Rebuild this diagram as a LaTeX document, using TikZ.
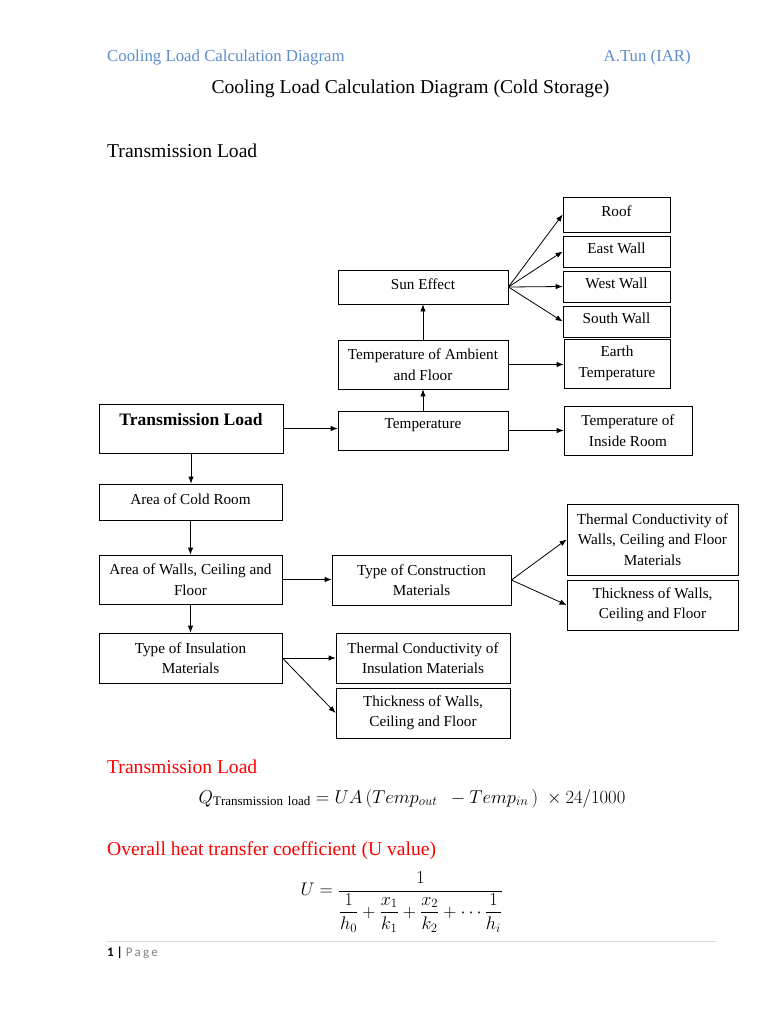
\RequirePackage{fix-cm}
\documentclass[tikz,border=0pt]{standalone}
\usepackage{amsmath}
\usepackage{fontspec}
\setmainfont{Liberation Serif}
\newfontfamily\pagefont{Carlito}
\usepackage{xcolor}
\usetikzlibrary{arrows.meta}
\definecolor{headblue}{RGB}{91,142,205}
\definecolor{pagegray}{RGB}{128,128,128}

\begin{document}
\begin{tikzpicture}[
        x=1pt, y=-1pt,
        box/.style={draw, line width=0.8pt, align=center, inner sep=1pt,
            font=\fontsize{15.2}{20.5}\selectfont},
        single/.style={text depth=6pt},
        link/.style={line width=0.8pt, -{Latex[length=7pt,width=5.5pt]}},
        heading/.style={anchor=base west, inner sep=0pt, font=\fontsize{19.6}{22}\selectfont}
      ]
      \useasboundingbox (0,0) rectangle (768,1024);

      % page head
      \node[anchor=base west, inner sep=0pt, text=headblue, font=\fontsize{16.8}{18}\selectfont] (runhead) at (107,62) {Cooling Load Calculation Diagram};
      \node[anchor=base east, inner sep=0pt, text=headblue, font=\fontsize{16.8}{18}\selectfont] (author) at (691,62) {A.Tun (IAR)};
      \node[anchor=base, inner sep=0pt, font=\fontsize{19.6}{22}\selectfont] (title) at (410.5,94) {Cooling Load Calculation Diagram (Cold Storage)};
      \node[heading] (section) at (107,158) {Transmission Load};

      % sun side
      \node[box, single, minimum width=107pt, minimum height=35pt] (roof) at (616.5,214.5) {Roof};
      \node[box, single, minimum width=107pt, minimum height=31pt] (east) at (616.5,251.5) {East Wall};
      \node[box, single, minimum width=107pt, minimum height=31pt] (west) at (616.5,286.5) {West Wall};
      \node[box, single, minimum width=107pt, minimum height=31pt] (south) at (616.5,321.5) {South Wall};
      \node[box, single, minimum width=170pt, minimum height=34pt] (sun) at (423,287) {Sun Effect};
      \node[box, minimum width=170pt, minimum height=49pt] (ambient) at (423,364.5) {Temperature of Ambient\\and Floor};
      \node[box, minimum width=106pt, minimum height=49pt] (earth) at (617,363.5) {Earth\\Temperature};

      % main row
      \node[box, minimum width=184pt, minimum height=49pt, text depth=19pt,
          font=\fontsize{17.5}{20}\selectfont\bfseries] (trans) at (191,428.5) {Transmission Load};
      \node[box, minimum width=170pt, minimum height=39pt, text depth=13pt] (temp) at (423,430.5) {Temperature};
      \node[box, minimum width=128pt, minimum height=49pt] (inside) at (628,430.5) {Temperature of\\Inside Room};

      % area side
      \node[box, single, minimum width=183pt, minimum height=36pt] (area) at (190.5,502) {Area of Cold Room};
      \node[box, minimum width=183pt, minimum height=49pt] (walls) at (190.5,579.5) {Area of Walls, Ceiling and\\Floor};
      \node[box, minimum width=179pt, minimum height=50pt] (constr) at (421.5,580) {Type of Construction\\Materials};
      \node[box, minimum width=171pt, minimum height=71pt] (condwall) at (652.5,539.5) {Thermal Conductivity of\\Walls, Ceiling and Floor\\Materials};
      \node[box, minimum width=171pt, minimum height=50pt] (thickwall) at (652.5,605) {Thickness of Walls,\\Ceiling and Floor};
      \node[box, minimum width=183pt, minimum height=50pt] (insul) at (190.5,658) {Type of Insulation\\Materials};
      \node[box, minimum width=174pt, minimum height=50pt] (condins) at (423,658) {Thermal Conductivity of\\Insulation Materials};
      \node[box, minimum width=174pt, minimum height=50pt] (thickins) at (423,713) {Thickness of Walls,\\Ceiling and Floor};

      % connectors
      \foreach \side in {roof,east,west,south}
        \draw[link] (sun.east) -- (\side.west);
      \draw[link] (ambient.north) -- (sun.south);
      \draw[link] (temp.north) -- (ambient.south);
      \draw[link] (ambient.east) -- (ambient.east -| earth.west);
      \draw[link] (trans.east) -- (trans.east -| temp.west);
      \draw[link] (temp.east) -- (temp.east -| inside.west);
      \draw[link] (trans.south) -- (trans.south |- area.north);
      \draw[link] (area.south) -- (walls.north);
      \draw[link] (walls.east) -- (walls.east -| constr.west);
      \draw[link] (constr.east) -- (condwall.west);
      \draw[link] (constr.east) -- (thickwall.west);
      \draw[link] (walls.south) -- (insul.north);
      \draw[link] (insul.east) -- (condins.west);
      \draw[link] (insul.east) -- (thickins.west);

      % formulas
      \node[heading, text=red] (loadhead) at (107,773) {Transmission Load};
      \node[anchor=base, inner sep=0pt, font=\fontsize{18.6}{22}\selectfont] (loadeq) at (412,803)
        {$Q_{\mathrm{Transmission\ load}} = UA\,(Temp_{out}\ \ - Temp_{in}\,)\ \times 24/1000$};
      \node[heading, text=red] (uhead) at (107,855) {Overall heat transfer coefficient (U value)};
      \node[inner sep=0pt, font=\fontsize{18.2}{22}\selectfont] (ueq) at (402,902)
        {$U = \dfrac{1}{\dfrac{1}{h_0} + \dfrac{x_1}{k_1} + \dfrac{x_2}{k_2} + \cdots \dfrac{1}{h_i}}$};

      % page foot
      \coordinate (footl) at (107,941);
      \coordinate (footr) at (716,941);
      \draw[line width=0.7pt, black!15] (footl) -- (footr);
      \node[anchor=base west, inner sep=0pt, font=\pagefont\fontsize{13}{15}\selectfont] (pageno) at (107,956)
        {\textbf{1 |} \textcolor{pagegray}{P\,a\,g\,e}};
    \end{tikzpicture}
\end{document}
